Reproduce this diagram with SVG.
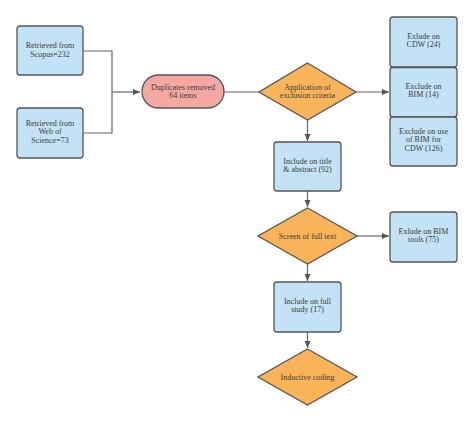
<svg xmlns="http://www.w3.org/2000/svg" width="474" height="423" viewBox="0 0 474 423">
<defs>
<marker id="ah" markerWidth="8" markerHeight="8" refX="7" refY="4" orient="auto" markerUnits="userSpaceOnUse">
<path d="M0,1 L7,4 L0,7 Z" fill="#555"/>
</marker>
<style>
.box{fill:#c4e2f6;stroke:#555;stroke-width:1.3}
.dia{fill:#f9b45a;stroke:#555;stroke-width:1.3}
.pill{fill:#f5a8a2;stroke:#555;stroke-width:1.3}
.t{font-family:"Liberation Serif",serif;font-size:8px;fill:#3d3d3d;text-anchor:middle}
.c{fill:none;stroke:#666;stroke-width:1.2}
</style>
</defs>
<rect width="474" height="423" fill="#fff"/>
<g id="connectors">
<path class="c" d="M83,51 H112 V133 H83"/>
<path class="c" d="M112,92 H140" marker-end="url(#ah)"/>
<path class="c" d="M224,92 H259"/>
<path class="c" d="M356,92 H389" marker-end="url(#ah)"/>
<path class="c" d="M307.5,120 V141" marker-end="url(#ah)"/>
<path class="c" d="M307.5,191 V207" marker-end="url(#ah)"/>
<path class="c" d="M357,236 H389" marker-end="url(#ah)"/>
<path class="c" d="M307.5,264 V281" marker-end="url(#ah)"/>
<path class="c" d="M307.5,332 V348" marker-end="url(#ah)"/>
</g>
<g id="scopus">
<rect class="box" x="17" y="26" width="66" height="49" rx="3"/>
<text class="t" x="50" y="48">Retrieved from</text>
<text class="t" x="50" y="57">Scopus=232</text>
</g>
<g id="wos">
<rect class="box" x="17" y="108" width="66" height="50" rx="3"/>
<text class="t" x="50" y="125.5">Retrieved from</text>
<text class="t" x="50" y="134">Web of</text>
<text class="t" x="50" y="142.5">Science=73</text>
</g>
<g id="duplicates">
<rect class="pill" x="142" y="75" width="82" height="33" rx="16.5"/>
<text class="t" x="183" y="89.5">Duplicates removed</text>
<text class="t" x="183" y="98">64 items</text>
</g>
<g id="exclusion">
<polygon class="dia" points="307.5,63 356,92 307.5,120 259,92"/>
<text class="t" x="307.5" y="89.5">Application of</text>
<text class="t" x="307.5" y="98">exclusion criteria</text>
</g>
<g id="ex-cdw">
<rect class="box" x="390" y="17" width="67" height="50" rx="3"/>
<text class="t" x="423.5" y="38.5">Exlude on</text>
<text class="t" x="423.5" y="47">CDW (24)</text>
</g>
<g id="ex-bim">
<rect class="box" x="390" y="67.5" width="67" height="49.5" rx="3"/>
<text class="t" x="423.5" y="88.5">Exclude on</text>
<text class="t" x="423.5" y="97">BIM (14)</text>
</g>
<g id="ex-use">
<rect class="box" x="390" y="117" width="67" height="49" rx="3"/>
<text class="t" x="423.5" y="133.5">Exclude on use</text>
<text class="t" x="423.5" y="142">of BIM for</text>
<text class="t" x="423.5" y="150.5">CDW (126)</text>
</g>
<g id="include-title">
<rect class="box" x="274" y="142" width="67" height="49" rx="3"/>
<text class="t" x="307.5" y="163.5">Include on title</text>
<text class="t" x="307.5" y="172">&amp; abstract (92)</text>
</g>
<g id="screen">
<polygon class="dia" points="307.5,208 357,236 307.5,264 258,236"/>
<text class="t" x="307.5" y="239">Screen of full text</text>
</g>
<g id="ex-tools">
<rect class="box" x="390" y="212" width="67" height="50" rx="3"/>
<text class="t" x="423.5" y="233.5">Exlude on BIM</text>
<text class="t" x="423.5" y="242">tools (75)</text>
</g>
<g id="include-full">
<rect class="box" x="274" y="282" width="67" height="50" rx="3"/>
<text class="t" x="307.5" y="303.5">Include on full</text>
<text class="t" x="307.5" y="312">study (17)</text>
</g>
<g id="inductive">
<polygon class="dia" points="307.5,349 357,377 307.5,405 258,377"/>
<text class="t" x="307.5" y="380">Inductive coding</text>
</g>
</svg>
